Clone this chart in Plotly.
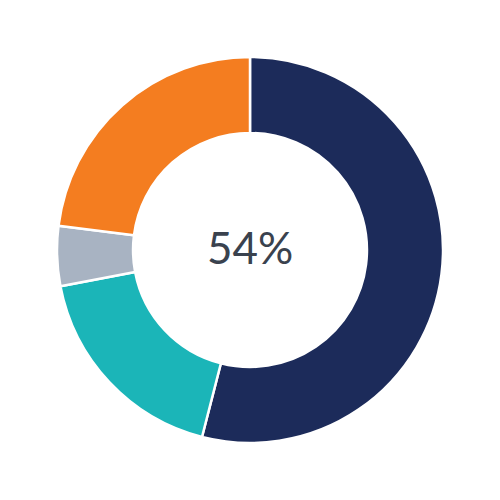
import plotly.graph_objects as go

# slice shares, clockwise from 12 o'clock
labels = ['Navy', 'Teal', 'Gray', 'Orange']
values = [54, 18, 5, 23]
colors = ['#1c2b5a', '#1bb5b8', '#a8b3c2', '#f47d20']
center_text = '54%'

# page body has an 8px margin, so pull the donut up/left a little
fig = go.Figure(go.Pie(
    labels=labels,
    values=values,
    hole=0.606,
    sort=False,
    direction='clockwise',
    rotation=0,
    marker=dict(colors=colors, line=dict(color='white', width=2.5)),
    textinfo='none',
    hoverinfo='label+percent',
    domain=dict(x=[0.098, 0.870], y=[0.130, 0.902]),
))

fig.add_annotation(
    text=center_text, x=0.484, y=0.522, xref='paper', yref='paper',
    showarrow=False, font=dict(family='Lato', size=44, color='#3a424e', weight=400),
)

fig.update_layout(
    width=500, height=500,
    margin=dict(l=0, r=0, t=0, b=0),
    showlegend=False,
    paper_bgcolor='white',
    plot_bgcolor='white',
)

fig.write_html('out.html')
